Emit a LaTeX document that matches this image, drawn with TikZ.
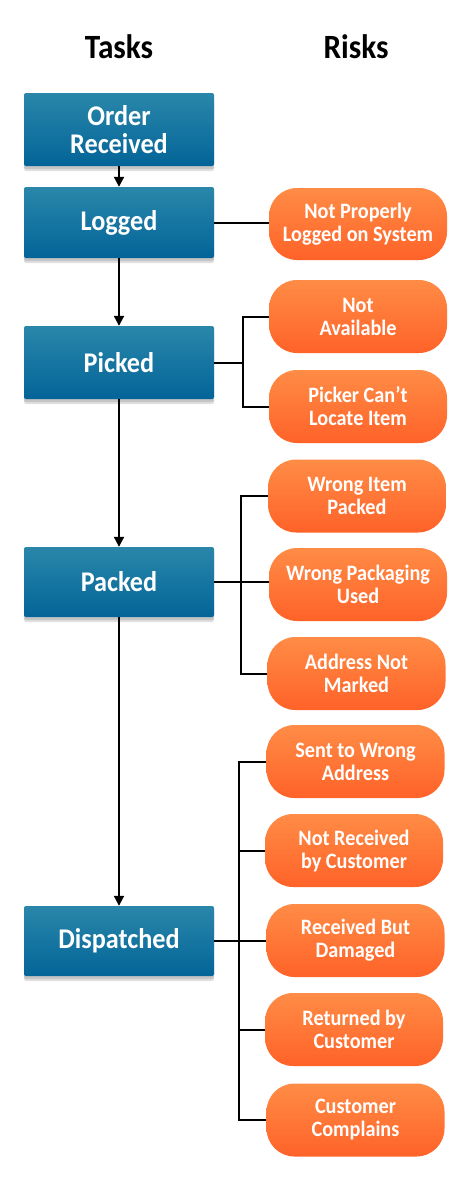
\documentclass[tikz,border=0pt]{standalone}
\usepackage{fontspec}
\setmainfont{Carlito}[FakeStretch=0.92]
\usetikzlibrary{shadows,arrows.meta}
\definecolor{bluetop}{RGB}{42,135,170}
\definecolor{bluebot}{RGB}{3,100,152}
\definecolor{orgtop}{RGB}{255,140,70}
\definecolor{orgbot}{RGB}{255,98,40}
\tikzset{
  taskbox/.style={rectangle, rounded corners=2pt, minimum width=190pt, minimum height=71pt,
    inner sep=0pt, align=center, text=white, top color=bluetop, bottom color=bluebot,
    font=\bfseries\fontsize{28.5}{28}\selectfont,
    drop shadow={shadow xshift=0pt, shadow yshift=-5pt, opacity=0.12, fill=black},
    drop shadow={shadow xshift=0pt, shadow yshift=-3pt, opacity=0.12, fill=black}},
  riskbox/.style={rectangle, rounded corners=28pt, minimum width=178pt, minimum height=73pt,
    inner sep=0pt, align=center, text=white, top color=orgtop, bottom color=orgbot,
    font=\bfseries\fontsize{22}{23}\selectfont},
  title/.style={font=\bfseries\fontsize{34}{34}\selectfont, text=black},
  flow/.style={line width=2pt, -{Triangle[length=10pt,width=10pt]}},
  link/.style={line width=2pt}
}
\begin{document}
\begin{tikzpicture}[x=1pt,y=-1pt]
\useasboundingbox (0,0) rectangle (470,1194);
\node[title] (tasks) at (119,47) {Tasks};
\node[title] (risks) at (356,47) {Risks};
% tasks
\node[taskbox, minimum height=73pt] (ord) at (119,129.5) {Order\\Received};
\node[taskbox] (log) at (119,222.5) {Logged};
\node[taskbox, minimum height=73pt] (pic) at (119,362.5) {Picked};
\node[taskbox, minimum height=70pt] (pac) at (119,582) {Packed};
\node[taskbox, minimum height=70pt] (dis) at (119,941) {Dispatched};
% risks
\node[riskbox, minimum height=72pt] (r1) at (358,224) {Not Properly\\Logged on System};
\node[riskbox] (r2) at (358,316.5) {Not\\Available};
\node[riskbox] (r3) at (358,406.5) {Picker Can{\char"27}t\\Locate Item};
\node[riskbox] (r4) at (357,496) {Wrong Item\\Packed};
\node[riskbox] (r5) at (358,584.5) {Wrong Packaging\\Used};
\node[riskbox] (r6) at (356.5,673.5) {Address Not\\Marked};
\node[riskbox] (r7) at (355.5,761.5) {Sent to Wrong\\Address};
\node[riskbox] (r8) at (354,850.5) {Not Received\\by Customer};
\node[riskbox] (r9) at (355.5,940.5) {Received But\\Damaged};
\node[riskbox] (r10) at (354,1029.5) {Returned by\\Customer};
\node[riskbox] (r11) at (355.5,1120) {Customer\\Complains};
% flow arrows
\draw[flow] (ord) -- (log);
\draw[flow] (log) -- (pic);
\draw[flow] (pic) -- (pac);
\draw[flow] (pac) -- (dis);
% risk connectors
\draw[link] (log.east) -- (log.east -| r1.west);
\coordinate (b1) at (243,362.5);
\draw[link] (pic.east) -- (b1);
\draw[link] (r2.west) -| (b1) |- (r3.west);
\coordinate (b2) at (241,582);
\draw[link] (pac.east) -- (b2) -- (pac.east -| r5.west);
\draw[link] (r4.west) -| (b2) |- (r6.west);
\coordinate (b3) at (239,941);
\draw[link] (dis.east) -- (b3) -- (dis.east -| r9.west);
\draw[link] (r7.west) -| (b3) |- (r11.west);
\draw[link] (r8.west) -- (r8.west -| b3);
\draw[link] (r10.west) -- (r10.west -| b3);
\end{tikzpicture}
\end{document}
